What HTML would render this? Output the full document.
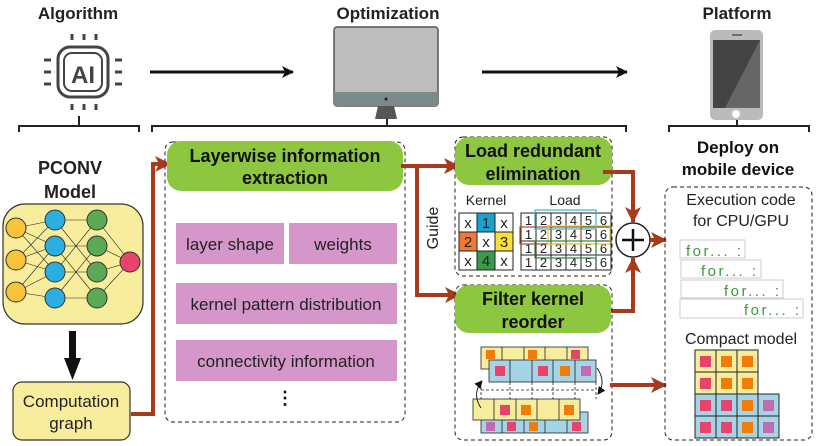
<!DOCTYPE html>
<html><head><meta charset="utf-8"><style>
html,body{margin:0;padding:0;background:#fff}
svg{display:block}
text{font-family:"Liberation Sans",sans-serif}
</style></head><body>
<svg width="821" height="446" viewBox="0 0 821 446" xmlns="http://www.w3.org/2000/svg">
<defs>
<marker id="ab" markerWidth="12" markerHeight="12" refX="11" refY="6" orient="auto" markerUnits="userSpaceOnUse"><path d="M0,0 L12,6 L0,12 L3,6z" fill="#111"/></marker>
<marker id="ar" markerWidth="16" markerHeight="16" refX="15" refY="8" orient="auto" markerUnits="userSpaceOnUse"><path d="M0,0 L16,8 L0,16 L4,8z" fill="#a83a1c"/></marker>
<marker id="as" markerWidth="8" markerHeight="8" refX="7" refY="4" orient="auto" markerUnits="userSpaceOnUse"><path d="M0,0 L8,4 L0,8z" fill="#111"/></marker>
</defs>
<g font-weight="bold" font-size="17" text-anchor="middle" fill="#222">
<text x="78" y="19">Algorithm</text>
<text x="388" y="19">Optimization</text>
<text x="737" y="19">Platform</text>
</g>
<g stroke="#444" stroke-width="3" fill="none">
<rect x="58" y="47" width="50" height="50" rx="12"/>
<rect x="64" y="53" width="38" height="38" rx="8" stroke-width="2"/>
<path d="M72 40v-6M84 40v-6M96 40v-6M72 104v6M84 104v6M96 104v6M51 60h-7M51 72h-7M51 84h-7M115 60h7M115 72h7M115 84h7"/>
</g>
<text x="83" y="83" text-anchor="middle" font-weight="bold" font-size="24" fill="#444">AI</text>
<line x1="150" y1="72" x2="293" y2="72" stroke="#111" stroke-width="3" marker-end="url(#ab)"/>
<line x1="482" y1="72" x2="627" y2="72" stroke="#111" stroke-width="3" marker-end="url(#ab)"/>
<rect x="334" y="27" width="104" height="79" rx="3" fill="#bdbdbd" stroke="#555" stroke-width="1.5"/>
<rect x="334" y="92" width="104" height="14" fill="#7a8a8a"/>
<circle cx="386" cy="99" r="1.5" fill="#222"/>
<path d="M378 106 L394 106 L397 119 L375 119z" fill="#555"/>
<rect x="710" y="30" width="53" height="90" rx="5" fill="#bbb"/>
<rect x="713" y="40" width="47" height="68" fill="#444"/>
<path d="M760 40 L760 108 L725 108z" fill="#666"/>
<circle cx="736" cy="114" r="4" fill="#fff"/>
<line x1="732" y1="35" x2="742" y2="35" stroke="#555" stroke-width="1.5"/>
<g stroke="#222" stroke-width="2" fill="none">
<path d="M19 132v-6h120v6M79 126v-10"/>
<path d="M152 132v-6h474v6M387 126v-7"/>
<path d="M669 132v-6h140v6M737 126v-6"/>
</g>
<text x="70" y="174" text-anchor="middle" font-weight="bold" font-size="18" fill="#222">PCONV</text>
<text x="70" y="198" text-anchor="middle" font-weight="bold" font-size="18" fill="#222">Model</text>
<rect x="3" y="204" width="140" height="120" rx="22" fill="#f8ed9c" stroke="#333" stroke-width="1.2"/>
<g stroke="#222" stroke-width="0.6">
<path d="M16 228L55 220M16 228L55 246M16 228L55 272M16 260L55 246M16 260L55 272M16 260L55 220M16 292L55 272M16 292L55 298M16 292L55 246M55 220L97 220M55 220L97 272M55 246L97 246M55 246L97 298M55 272L97 220M55 272L97 272M55 298L97 298M55 298L97 246M97 220L130 262M97 246L130 262M97 272L130 262M97 298L130 262"/>
</g>
<g stroke="#333" stroke-width="1">
<circle cx="16" cy="228" r="10" fill="#f9c43a"/><circle cx="16" cy="260" r="10" fill="#f9c43a"/><circle cx="16" cy="292" r="10" fill="#f9c43a"/>
<circle cx="55" cy="220" r="10" fill="#2aafe0"/><circle cx="55" cy="246" r="10" fill="#2aafe0"/><circle cx="55" cy="272" r="10" fill="#2aafe0"/><circle cx="55" cy="298" r="10" fill="#2aafe0"/>
<circle cx="97" cy="220" r="10" fill="#5aaa55"/><circle cx="97" cy="246" r="10" fill="#5aaa55"/><circle cx="97" cy="272" r="10" fill="#5aaa55"/><circle cx="97" cy="298" r="10" fill="#5aaa55"/>
<circle cx="130" cy="262" r="10" fill="#e8436b"/>
</g>
<rect x="69" y="331" width="7" height="30" fill="#111"/>
<path d="M64 358 L81 358 L72.5 380z" fill="#111"/>
<rect x="13" y="382" width="117" height="58" rx="9" fill="#f8ed9c" stroke="#333" stroke-width="1.2"/>
<text x="71" y="407" text-anchor="middle" font-size="17" fill="#222">Computation</text>
<text x="71" y="429" text-anchor="middle" font-size="17" fill="#222">graph</text>
<path d="M131 414 H153 V164 H170" fill="none" stroke="#a83a1c" stroke-width="4" marker-end="url(#ar)"/>
<rect x="165" y="142" width="240" height="280" rx="8" fill="none" stroke="#222" stroke-width="1" stroke-dasharray="4,3"/>
<rect x="167" y="141" width="236" height="50" rx="14" fill="#8dc63f"/>
<text x="285" y="162" text-anchor="middle" font-weight="bold" font-size="18" fill="#111">Layerwise information</text>
<text x="285" y="184" text-anchor="middle" font-weight="bold" font-size="18" fill="#111">extraction</text>
<g fill="#d597c9">
<rect x="176" y="223" width="108" height="41"/>
<rect x="289" y="223" width="108" height="41"/>
<rect x="176" y="283" width="221" height="41"/>
<rect x="176" y="340" width="221" height="41"/>
</g>
<g font-size="17" fill="#222" text-anchor="middle">
<text x="230" y="250">layer shape</text>
<text x="343" y="250">weights</text>
<text x="286" y="310">kernel pattern distribution</text>
<text x="286" y="367">connectivity information</text>
</g>
<text x="285" y="404" text-anchor="middle" font-weight="bold" font-size="18" fill="#111">⋮</text>
<path d="M401 166 H459" fill="none" stroke="#a83a1c" stroke-width="4" marker-end="url(#ar)"/>
<path d="M417 166 V295 H460" fill="none" stroke="#a83a1c" stroke-width="4" marker-end="url(#ar)"/>
<text transform="translate(438,228) rotate(-90)" text-anchor="middle" font-size="16" fill="#222">Guide</text>
<rect x="455" y="137" width="157" height="139" rx="8" fill="none" stroke="#222" stroke-width="1" stroke-dasharray="4,3"/>
<rect x="455" y="137" width="157" height="48" rx="14" fill="#8dc63f"/>
<text x="533" y="157" text-anchor="middle" font-weight="bold" font-size="18" fill="#111">Load redundant</text>
<text x="533" y="180" text-anchor="middle" font-weight="bold" font-size="18" fill="#111">elimination</text>
<text x="486" y="205" text-anchor="middle" font-size="14" fill="#222">Kernel</text>
<text x="565" y="205" text-anchor="middle" font-size="14" fill="#222">Load</text>
<g stroke="#222" stroke-width="1">
<rect x="459" y="213" width="18" height="19" fill="#fff"/><rect x="477" y="213" width="18" height="19" fill="#1aa2cf"/><rect x="495" y="213" width="18" height="19" fill="#fff"/>
<rect x="459" y="232" width="18" height="19" fill="#f07a35"/><rect x="477" y="232" width="18" height="19" fill="#fff"/><rect x="495" y="232" width="18" height="19" fill="#f8e038"/>
<rect x="459" y="251" width="18" height="19" fill="#fff"/><rect x="477" y="251" width="18" height="19" fill="#3a9a4a"/><rect x="495" y="251" width="18" height="19" fill="#fff"/>
</g>
<g font-size="15" text-anchor="middle" fill="#222">
<text x="468" y="228">x</text><text x="486" y="228">1</text><text x="504" y="228">x</text>
<text x="468" y="247">2</text><text x="486" y="247">x</text><text x="504" y="247">3</text>
<text x="468" y="266">x</text><text x="486" y="266">4</text><text x="504" y="266">x</text>
</g>
<g stroke="#222" stroke-width="1" fill="none">
<rect x="521" y="213" width="90" height="57"/>
<path d="M536 213v57M551 213v57M566 213v57M581 213v57M596 213v57M521 227h90M521 241h90M521 255h90"/>
</g>
<g font-size="13" text-anchor="middle" fill="#222">
<text x="528.5" y="225">1</text><text x="543.5" y="225">2</text><text x="558.5" y="225">3</text><text x="573.5" y="225">4</text><text x="588.5" y="225">5</text><text x="603.5" y="225">6</text>
<text x="528.5" y="239">1</text><text x="543.5" y="239">2</text><text x="558.5" y="239">3</text><text x="573.5" y="239">4</text><text x="588.5" y="239">5</text><text x="603.5" y="239">6</text>
<text x="528.5" y="253">1</text><text x="543.5" y="253">2</text><text x="558.5" y="253">3</text><text x="573.5" y="253">4</text><text x="588.5" y="253">5</text><text x="603.5" y="253">6</text>
<text x="528.5" y="267">1</text><text x="543.5" y="267">2</text><text x="558.5" y="267">3</text><text x="573.5" y="267">4</text><text x="588.5" y="267">5</text><text x="603.5" y="267">6</text>
</g>
<rect x="535" y="210" width="61" height="19" fill="none" stroke="#3ab0d0" stroke-width="1.2"/>
<rect x="520" y="227" width="61" height="17" fill="none" stroke="#b04a2a" stroke-width="1.2"/>
<rect x="548" y="226" width="62" height="18" fill="none" stroke="#e8c82a" stroke-width="1.2"/>
<rect x="535" y="241" width="61" height="17" fill="none" stroke="#2a8a3a" stroke-width="1.2"/>
<path d="M603 172 H633 V222" fill="none" stroke="#a83a1c" stroke-width="4" marker-end="url(#ar)"/>
<path d="M605 311 H633 V258" fill="none" stroke="#a83a1c" stroke-width="4" marker-end="url(#ar)"/>
<circle cx="633" cy="240" r="17" fill="#fff" stroke="#222" stroke-width="1.5"/>
<path d="M622 240h22M633 229v22" stroke="#111" stroke-width="2.5"/>
<path d="M650 240 H666" fill="none" stroke="#a83a1c" stroke-width="4" marker-end="url(#ar)"/>
<rect x="455" y="285" width="157" height="155" rx="8" fill="none" stroke="#222" stroke-width="1" stroke-dasharray="4,3"/>
<rect x="455" y="285" width="156" height="48" rx="14" fill="#8dc63f"/>
<text x="533" y="305" text-anchor="middle" font-weight="bold" font-size="18" fill="#111">Filter kernel</text>
<text x="533" y="328" text-anchor="middle" font-weight="bold" font-size="18" fill="#111">reorder</text>
<g stroke="#222" stroke-width="0.8">
<rect x="481" y="347" width="107" height="22" fill="#f8ed9c"/>
<path d="M502 347v22M524 347v22M545 347v22M567 347v22" fill="none"/>
<rect x="489" y="360" width="107" height="22" fill="#a6d4e6"/>
<path d="M510 360v22M532 360v22M553 360v22M575 360v22" fill="none"/>
<rect x="481" y="412" width="107" height="21" fill="#a6d4e6"/>
<path d="M502 412v21M524 412v21M545 412v21M567 412v21" fill="none"/>
<rect x="473" y="399" width="107" height="21" fill="#f8ed9c"/>
<path d="M494 399v21M516 399v21M537 399v21M559 399v21" fill="none"/>
</g>
<g stroke="none">
<rect x="486" y="350" width="9" height="9" fill="#f07c0a"/><rect x="528" y="350" width="9" height="9" fill="#f07c0a"/><rect x="571" y="350" width="9" height="9" fill="#e8436b"/>
<rect x="495" y="366" width="10" height="10" fill="#e8436b"/><rect x="538" y="366" width="10" height="10" fill="#e8436b"/><rect x="560" y="366" width="10" height="10" fill="#f07c0a"/><rect x="581" y="366" width="10" height="10" fill="#c06cb0"/>
<rect x="486" y="422" width="9" height="9" fill="#c06cb0"/><rect x="507" y="422" width="9" height="9" fill="#e8436b"/><rect x="529" y="422" width="9" height="9" fill="#f07c0a"/><rect x="572" y="422" width="9" height="9" fill="#e8436b"/>
<rect x="500" y="405" width="10" height="10" fill="#e8436b"/><rect x="521" y="405" width="10" height="10" fill="#f07c0a"/><rect x="564" y="405" width="10" height="10" fill="#f07c0a"/>
</g>
<g stroke="#222" stroke-width="0.8" stroke-dasharray="3,2" fill="none">
<path d="M481 390h115M481 382v17M510 382v17M532 382v17M553 382v17M575 382v17M596 382v17"/>
</g>
<path d="M481 408 C474 398 476 388 482 381" fill="none" stroke="#111" stroke-width="0.9" marker-end="url(#as)"/>
<path d="M597 368 C604 378 603 387 598 394" fill="none" stroke="#111" stroke-width="0.9" marker-end="url(#as)"/>
<path d="M610 385 H666" fill="none" stroke="#a83a1c" stroke-width="4" marker-end="url(#ar)"/>
<text x="738" y="153" text-anchor="middle" font-weight="bold" font-size="17" fill="#111">Deploy on</text>
<text x="738" y="175" text-anchor="middle" font-weight="bold" font-size="17" fill="#111">mobile device</text>
<rect x="665" y="187" width="147" height="253" rx="8" fill="none" stroke="#222" stroke-width="1" stroke-dasharray="4,3"/>
<text x="741" y="205" text-anchor="middle" font-size="16" fill="#222">Execution code</text>
<text x="741" y="226" text-anchor="middle" font-size="16" fill="#222">for CPU/GPU</text>
<g fill="#fff" stroke="#ccc" stroke-width="1">
<rect x="680" y="240" width="65" height="18"/>
<rect x="681" y="260" width="80" height="18"/>
<rect x="681" y="280" width="102" height="18"/>
<rect x="680" y="299" width="123" height="19"/>
</g>
<g font-size="15" fill="#3a9a3a" letter-spacing="2.5">
<text x="686" y="256">for... :</text>
<text x="701" y="276">for... :</text>
<text x="724" y="296">for... :</text>
<text x="744" y="315">for... :</text>
</g>
<text x="741" y="344" text-anchor="middle" font-size="16" fill="#222">Compact model</text>
<g stroke="#222" stroke-width="1">
<rect x="695" y="350" width="21" height="22" fill="#f8ed9c"/><rect x="716" y="350" width="21" height="22" fill="#f8ed9c"/><rect x="737" y="350" width="21" height="22" fill="#f8ed9c"/>
<rect x="695" y="372" width="21" height="22" fill="#f8ed9c"/><rect x="716" y="372" width="21" height="22" fill="#f8ed9c"/><rect x="737" y="372" width="21" height="22" fill="#f8ed9c"/>
<rect x="695" y="394" width="21" height="22" fill="#a6d4e6"/><rect x="716" y="394" width="21" height="22" fill="#a6d4e6"/><rect x="737" y="394" width="21" height="22" fill="#a6d4e6"/><rect x="758" y="394" width="21" height="22" fill="#a6d4e6"/>
<rect x="695" y="416" width="21" height="22" fill="#a6d4e6"/><rect x="716" y="416" width="21" height="22" fill="#a6d4e6"/><rect x="737" y="416" width="21" height="22" fill="#a6d4e6"/><rect x="758" y="416" width="21" height="22" fill="#a6d4e6"/>
</g>
<g>
<rect x="700" y="356" width="11" height="11" fill="#e8436b"/><rect x="721" y="356" width="11" height="11" fill="#f07c0a"/><rect x="742" y="356" width="11" height="11" fill="#f07c0a"/>
<rect x="700" y="378" width="11" height="11" fill="#e8436b"/><rect x="721" y="378" width="11" height="11" fill="#f07c0a"/><rect x="742" y="378" width="11" height="11" fill="#f07c0a"/>
<rect x="700" y="400" width="11" height="11" fill="#e8436b"/><rect x="721" y="400" width="11" height="11" fill="#e8436b"/><rect x="742" y="400" width="11" height="11" fill="#f07c0a"/><rect x="763" y="400" width="11" height="11" fill="#c06cb0"/>
<rect x="700" y="422" width="11" height="11" fill="#e8436b"/><rect x="721" y="422" width="11" height="11" fill="#e8436b"/><rect x="742" y="422" width="11" height="11" fill="#f07c0a"/><rect x="763" y="422" width="11" height="11" fill="#c06cb0"/>
</g>
</svg>
</body></html>
